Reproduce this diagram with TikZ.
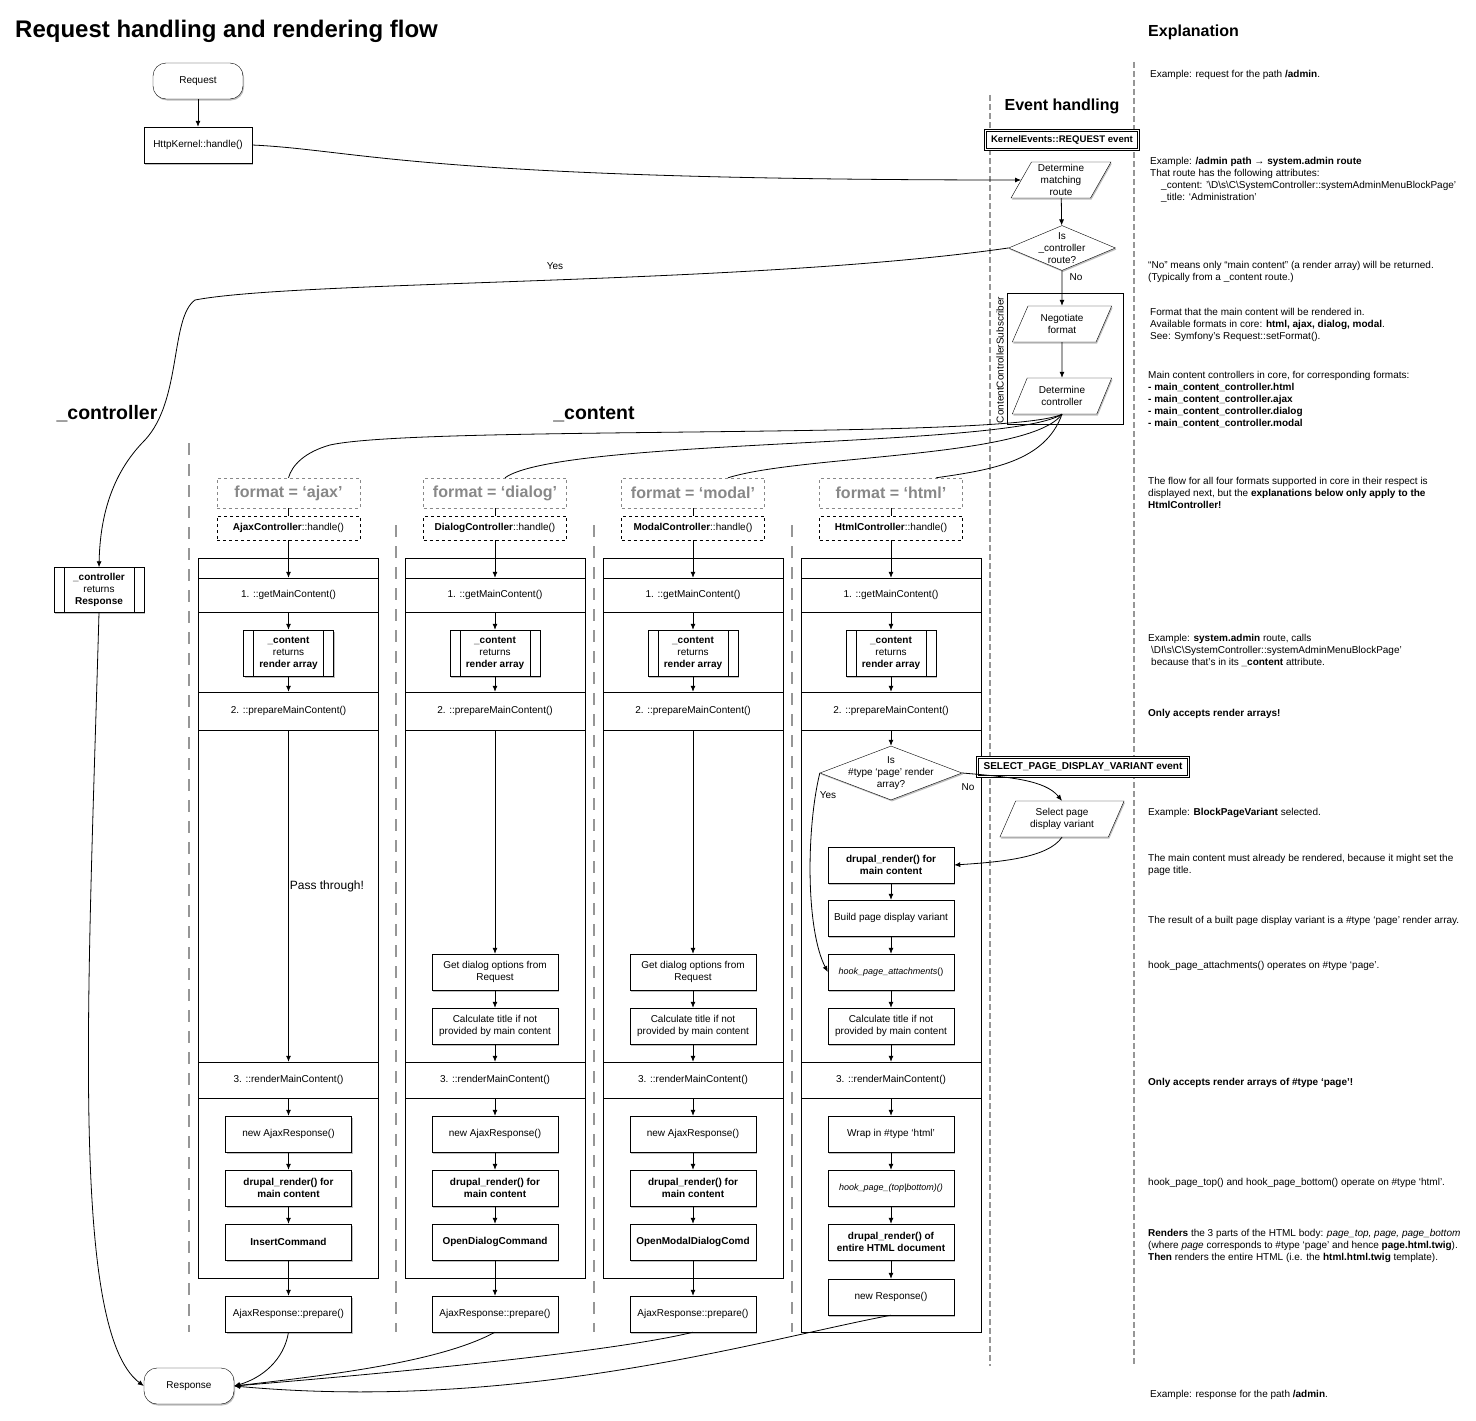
\documentclass[tikz,border=0pt]{standalone}
\usepackage{fontspec}
\setmainfont{Liberation Sans}
\usetikzlibrary{arrows.meta,shapes.geometric,shadows}
\newcommand\ften{\fontsize{10}{12}\selectfont}
\newcommand\fexp{\fontsize{10}{12}\selectfont}
\definecolor{fmtgray}{RGB}{136,136,136}
\definecolor{sepgray}{RGB}{150,150,150}
\begin{document}
\begin{tikzpicture}[x=1pt,y=-1pt,
  arr/.style={-{Latex[length=6pt,width=5pt]}, line width=0.8pt},
  conn/.style={line width=0.8pt},
  shd/.style={drop shadow={shadow xshift=1pt,shadow yshift=-1.5pt,fill=black,opacity=0.25}},
  term/.style={draw, fill=white, rounded corners=13pt, minimum width=90pt, minimum height=36pt, font=\ften, shd},
  box/.style={draw, fill=white, minimum width=126pt, minimum height=36pt, align=center, inner sep=1pt, font=\ften, shd},
  band/.style={draw, fill=white, minimum width=180pt, font=\ften, inner sep=2pt},
  sub/.style={draw, fill=white, minimum width=90pt, minimum height=46pt, align=center, font=\ften, inner sep=1pt, shd,
    path picture={\draw ([xshift=10pt]path picture bounding box.north west) -- ([xshift=10pt]path picture bounding box.south west)
      ([xshift=-10pt]path picture bounding box.north east) -- ([xshift=-10pt]path picture bounding box.south east);}},
  para/.style={trapezium, trapezium left angle=63, trapezium right angle=117, trapezium stretches=true, draw, fill=white,
    minimum height=36pt, minimum width=100pt, align=center, font=\ften, inner sep=0pt, shd},
  dia/.style={diamond, draw, fill=white, inner sep=0pt, shd},
  dbl/.style={draw, double, double distance=1.6pt, fill=white, minimum height=19pt, font=\ften\bfseries, inner sep=2pt},
  fmt/.style={draw=fmtgray, dashed, minimum width=143pt, minimum height=30pt, font=\bfseries\fontsize{16}{18}\selectfont, text=fmtgray},
  ctl/.style={draw, dashed, minimum width=143pt, minimum height=24pt, font=\ften},
  expl/.style={anchor=north west, inner sep=0pt, align=left, font=\fexp},
  lbl/.style={font=\ften, inner sep=1pt},
  txt/.style={font=\ften, align=center, inner sep=0pt},
  sepline/.style={draw=sepgray, line width=2.2pt, dash pattern=on 6pt off 3pt},
  colsep/.style={draw=sepgray, line width=1.5pt, dash pattern=on 12pt off 9pt},
  head/.style={font=\bfseries\fontsize{19.5}{22}\selectfont, inner sep=0pt}
]
\fill[white] (0,0) rectangle (1476,1421);
\useasboundingbox (0,0) rectangle (1476,1421);

% separators
\draw[sepline] (990,95) -- (990,1366);
\draw[sepline] (1134,62) -- (1134,1366);
\draw[colsep] (189,443) -- (189,1332);
\foreach \xx in {396,594,792} \draw[colsep] (\xx,525) -- (\xx,1332);

% headings
\node[anchor=base west, font=\bfseries\fontsize{24}{28}\selectfont, inner sep=0pt] (title) at (15,38) {Request handling and rendering flow};
\node[anchor=base west, font=\bfseries\fontsize{16}{19}\selectfont, inner sep=0pt] (explh) at (1148,37) {Explanation};
\node[font=\bfseries\fontsize{16}{19}\selectfont, inner sep=0pt] (evh) at (1062,106) {Event handling};
\node[head] (hctrl) at (107,414) {\_controller};
\node[head] (hcont) at (594,414) {\_content};

% top
\node[term] (req) at (198,81) {Request};
\node[box, minimum width=108pt] (hk) at (198,145) {HttpKernel::handle()};
\draw[arr] (req) -- (hk);

% event handling
\node[dbl, minimum width=153pt, font=\fontsize{9.6}{12}\selectfont\bfseries] (kre) at (1062,140) {KernelEvents::REQUEST event};
\node[para] (dmr) at (1061,180) {Determine\\matching\\route};
\draw[arr] (hk.east) .. controls (360,150) and (420,180) .. (dmr.west);
\node[dia, minimum width=107pt, minimum height=45pt] (dcr) at (1062,248) {};
\node[txt] (dcrt) at (1062,248) {Is\\\_controller\\route?};
\draw[arr] (dmr) -- (dcr);
\node[lbl] (no1) at (1076,277) {No};
\node[draw, minimum width=116pt, minimum height=131pt] (ccs) at (1065,358.5) {};
\node[rotate=90, font=\ften, inner sep=0pt] (ccsl) at (1000,360) {ContentControllerSubscriber};
\node[para] (neg) at (1062,324) {Negotiate\\format};
\draw[arr] (dcr.south) -- (neg.north);
\node[para] (dc) at (1062,396) {Determine\\controller};
\draw[arr] (neg) -- (dc);

% controller branch
\node[sub, minimum height=45pt] (cret) at (99,590) {\textbf{\_controller}\\returns\\\textbf{Response}};
\draw[arr] (dcr.west) .. controls (750,285) and (300,280) .. (195,300) .. controls (170,318) and (182,400) .. (145,440) .. controls (110,475) and (100,520) .. (cret.north);
\node[lbl] (yes1) at (555,266) {Yes};

% columns
\foreach \n/\x/\fm/\cn/\yb in {a/288.5/ajax/Ajax/1278,d/495/dialog/Dialog/1278,m/693/modal/Modal/1278,h/891/html/Html/1332}{
  \node[fmt] (fmt\n) at (\x,493) {format = ‘\fm’};
  \node[ctl] (ctl\n) at (\x,528) {\textbf{\cn Controller}::handle()};
  \draw[conn] (fmt\n) -- (ctl\n);
  \draw[fill=white, line width=0.8pt] (\x-90,558) rectangle (\x+90,\yb);
  \node[band, minimum height=34pt] (b1\n) at (\x,595) {1. ::getMainContent()};
  \node[sub] (sub\n) at (\x,653) {\textbf{\_content}\\returns\\\textbf{render array}};
  \node[band, minimum height=38pt] (b2\n) at (\x,711) {2. ::prepareMainContent()};
  \node[band, minimum height=36pt] (b3\n) at (\x,1080) {3. ::renderMainContent()};
  \draw[arr] (ctl\n) -- (b1\n);
  \draw[arr] (b1\n) -- (sub\n);
  \draw[arr] (sub\n) -- (b2\n);
}

% fan from determine controller
\draw[conn] (dc.south) .. controls (1010,440) and (420,425) .. (330,445) .. controls (305,452) and (292,465) .. (fmta.north);
\draw[conn] (dc.south) .. controls (1010,448) and (560,438) .. ([xshift=10pt]fmtd.north);
\draw[conn] (dc.south) .. controls (1030,458) and (800,455) .. ([xshift=35pt]fmtm.north);
\draw[conn] (dc.south) .. controls (1045,462) and (990,470) .. ([xshift=45pt]fmth.north);

% ajax
\draw[arr] (b2a) -- (b3a) node[pos=0.47, right, font=\fontsize{12}{14}\selectfont, inner sep=1pt] (pth) {Pass through!};

% dialog & modal
\foreach \n/\x in {d/495,m/693}{
  \node[box] (gdo\n) at (\x,972) {Get dialog options from\\Request};
  \node[box] (ctt\n) at (\x,1026) {Calculate title if not\\provided by main content};
  \draw[arr] (b2\n) -- (gdo\n);
  \draw[arr] (gdo\n) -- (ctt\n);
  \draw[arr] (ctt\n) -- (b3\n);
}
\foreach \n/\x/\cmd in {a/288.5/InsertCommand,d/495/OpenDialogCommand,m/693/OpenModalDialogComd}{
  \node[box] (nar\n) at (\x,1134) {new AjaxResponse()};
  \node[box, font=\ften\bfseries] (drm\n) at (\x,1188) {drupal\_render() for\\main content};
  \node[box, font=\ften\bfseries] (cmd\n) at (\x,1242) {\cmd};
  \node[box] (prep\n) at (\x,1314) {AjaxResponse::prepare()};
  \draw[arr] (b3\n) -- (nar\n);
  \draw[arr] (nar\n) -- (drm\n);
  \draw[arr] (drm\n) -- (cmd\n);
  \draw[arr] (cmd\n) -- (prep\n);
}

% html
\node[dia, minimum width=142pt, minimum height=54pt] (dpg) at (891,773) {};
\node[txt] (dpgt) at (891,773) {Is\\\#type ‘page’ render\\array?};
\draw[arr] (b2h) -- (dpg);
\node[lbl] (yes2) at (828,795) {Yes};
\node[lbl] (no2) at (968,787) {No};
\node[dbl, minimum width=211pt] (spdv) at (1083,767) {SELECT\_PAGE\_DISPLAY\_VARIANT event};
\node[para, minimum width=125pt] (sel) at (1062,819) {Select page\\display variant};
\draw[arr] (dpg.east) .. controls (1010,777) and (1045,780) .. (sel.north);
\node[box, font=\ften\bfseries] (drh) at (891,865) {drupal\_render() for\\main content};
\node[box] (bpv) at (891,918) {Build page display variant};
\node[box, font=\fontsize{9}{11}\selectfont] (hpa) at (891,972) {\textit{hook\_page\_attachments}()};
\node[box] (cth) at (891,1026) {Calculate title if not\\provided by main content};
\draw[arr] (sel.south) .. controls (1048,858) and (1000,862) .. (drh.east);
\draw[arr] (dpg.west) .. controls (806,830) and (806,930) .. (hpa.west);
\draw[arr] (drh) -- (bpv);
\draw[arr] (bpv) -- (hpa);
\draw[arr] (hpa) -- (cth);
\draw[arr] (cth) -- (b3h);
\node[box] (wrp) at (891,1134) {Wrap in \#type ‘html’};
\node[box, font=\fontsize{9}{11}\selectfont] (hpt) at (891,1188) {\textit{hook\_page\_(top|bottom)()}};
\node[box, font=\ften\bfseries] (dre) at (891,1242) {drupal\_render() of\\entire HTML document};
\node[box] (nrs) at (891,1297) {new Response()};
\draw[arr] (b3h) -- (wrp);
\draw[arr] (wrp) -- (hpt);
\draw[arr] (hpt) -- (dre);
\draw[arr] (dre) -- (nrs);

% response
\node[term] (resp) at (189,1386) {Response};
\draw[arr] (cret.south) .. controls (88,1000) and (70,1330) .. (resp.west);
\draw[arr] (prepa.south) .. controls (284,1360) and (262,1378) .. (resp.east);
\draw[arr] (prepd.south) .. controls (440,1362) and (330,1375) .. (resp.east);
\draw[arr] (prepm.south) .. controls (600,1355) and (330,1378) .. (resp.east);
\draw[arr] (nrs.south) .. controls (760,1340) and (520,1412) .. (resp.east);

% explanations
\node[expl] (e1) at (1150,70.5) {Example: request for the path \textbf{/admin}.};
\node[expl] (e2) at (1150,157.5) {Example: \textbf{/admin path → system.admin route}\\That route has the following attributes:\\\hspace*{11pt}\_content: '\textbackslash D\textbackslash s\textbackslash C\textbackslash SystemController::systemAdminMenuBlockPage'\\\hspace*{11pt}\_title: ‘Administration’};
\node[expl] (e3) at (1148,261.5) {“No” means only “main content” (a render array) will be returned.\\(Typically from a \_content route.)};
\node[expl] (e4) at (1150,308.5) {Format that the main content will be rendered in.\\Available formats in core: \textbf{html, ajax, dialog, modal}.\\See: Symfony’s Request::setFormat().};
\node[expl] (e5) at (1148,371.5) {Main content controllers in core, for corresponding formats:\\\textbf{- main\_content\_controller.html}\\\textbf{- main\_content\_controller.ajax}\\\textbf{- main\_content\_controller.dialog}\\\textbf{- main\_content\_controller.modal}};
\node[expl] (e6) at (1148,477.5) {The flow for all four formats supported in core in their respect is\\displayed next, but the \textbf{explanations below only apply to the}\\\textbf{HtmlController!}};
\node[expl] (e7) at (1148,634.5) {Example: \textbf{system.admin} route, calls\\\hspace*{3pt}\textbackslash DI\textbackslash s\textbackslash C\textbackslash SystemController::systemAdminMenuBlockPage'\\\hspace*{3pt}because that’s in its \textbf{\_content} attribute.};
\node[expl] (e8) at (1148,709.5) {\textbf{Only accepts render arrays!}};
\node[expl] (e9) at (1148,808.5) {Example: \textbf{BlockPageVariant} selected.};
\node[expl] (e10) at (1148,854.5) {The main content must already be rendered, because it might set the\\page title.};
\node[expl] (e11) at (1148,916.5) {The result of a built page display variant is a \#type ‘page’ render array.};
\node[expl] (e12) at (1148,961.5) {hook\_page\_attachments() operates on \#type ‘page’.};
\node[expl] (e13) at (1148,1078.5) {\textbf{Only accepts render arrays of \#type ‘page’!}};
\node[expl] (e14) at (1148,1178.5) {hook\_page\_top() and hook\_page\_bottom() operate on \#type ‘html’.};
\node[expl] (e15) at (1148,1229.5) {\textbf{Renders} the 3 parts of the HTML body: \textit{page\_top, page, page\_bottom}\\(where \textit{page} corresponds to \#type ‘page’ and hence \textbf{page.html.twig}).\\\textbf{Then} renders the entire HTML (i.e. the \textbf{html.html.twig} template).};
\node[expl] (e16) at (1150,1390.5) {Example: response for the path \textbf{/admin}.};
\end{tikzpicture}
\end{document}
